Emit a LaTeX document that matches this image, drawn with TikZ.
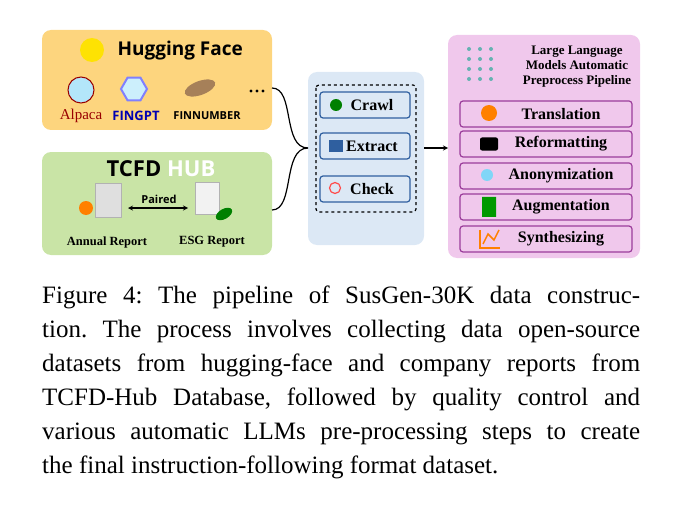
\documentclass[tikz,border=0pt]{standalone}
\usepackage{fontspec}
\setmainfont{Liberation Serif}
\newfontfamily\sansb{Open Sans}
\usetikzlibrary{shapes.geometric}
\definecolor{hfbg}{HTML}{FDD57E}
\definecolor{tcbg}{HTML}{C9E4A6}
\definecolor{qcbg}{HTML}{DCE8F5}
\definecolor{qcline}{HTML}{2F5F9F}
\definecolor{plbg}{HTML}{F0C8EC}
\definecolor{plline}{HTML}{9B3D9B}
\tikzset{
% panels and step buttons
qc step/.style={draw=qcline,line width=1.2pt,fill=qcbg,rounded corners=3pt,minimum width=90pt,minimum height=26pt,font=\bfseries\fontsize{16}{16}\selectfont},
llm step/.style={draw=plline,line width=1.2pt,fill=plbg,rounded corners=3pt,minimum width=172pt,minimum height=26pt,font=\bfseries\fontsize{16}{16}\selectfont},
icon/.style={inner sep=0}
}
\begin{document}
\begin{tikzpicture}[x=1pt,y=-1pt]
\useasboundingbox (0,0) rectangle (685,516);
% panels
\fill[hfbg,rounded corners=9pt] (42,30) rectangle (272,130);
\fill[tcbg,rounded corners=9pt] (42,152) rectangle (272,255);
\fill[qcbg,rounded corners=9pt] (308,72) rectangle (424,245);
\fill[plbg,rounded corners=9pt] (448,35) rectangle (640,258);
\draw[dashed,line width=1.2pt,rounded corners=3pt] (316,85) rectangle (416,212);
% hugging face
\node[icon,circle,fill=yellow!85!orange,minimum size=24pt] (emoji) at (92,50) {};
\node[font=\sansb\bfseries\fontsize{19}{19}\selectfont,anchor=west] (hf) at (114,51) {Hugging Face};
\node[icon,circle,draw=red!60!black,line width=1pt,fill=cyan!30,minimum size=26pt] (alp) at (81,90) {};
\node[font=\fontsize{15}{15}\selectfont,text=red!60!black] (alpt) at (81,116) {Alpaca};
\node[icon,regular polygon,regular polygon sides=6,draw=blue!50,line width=2pt,fill=cyan!20,minimum size=26pt] (fg) at (134,89) {};
\node[font=\sansb\bfseries\fontsize{13}{13}\selectfont,text=blue!70!black] (fgt) at (136,116) {FINGPT};
\node[icon,ellipse,fill=brown!60!gray,minimum width=32pt,minimum height=14pt,rotate=20] (bird) at (200,88) {};
\node[font=\sansb\bfseries\fontsize{11}{11}\selectfont] (fnt) at (207,116) {FINNUMBER};
\foreach \k in {0,1,2} \fill (251+\k*6,91) circle (1.6pt);
% tcfd hub
\node[font=\sansb\bfseries\fontsize{22}{22}\selectfont] (tc) at (161,169) {TCFD \textcolor{white}{HUB}};
\node[icon,fill=gray!25,draw=gray!60,minimum width=26pt,minimum height=34pt] (ar) at (108,200) {};
\node[icon,circle,fill=orange,minimum size=14pt] (coin) at (86,208) {};
\node[font=\bfseries\fontsize{12.5}{12.5}\selectfont] (art) at (107,242) {Annual Report};
\node[icon,fill=gray!10,draw=gray!60,minimum width=24pt,minimum height=32pt] (esg) at (207,198) {};
\node[icon,ellipse,fill=green!50!black,minimum width=18pt,minimum height=10pt,rotate=30] (leaf) at (224,214) {};
\node[font=\bfseries\fontsize{12.5}{12.5}\selectfont] (esgt) at (212,242) {ESG Report};
\node[font=\sansb\bfseries\fontsize{11}{11}\selectfont] (pair) at (159,199) {Paired};
\draw[<->,>=stealth,line width=1.2pt] (128,208) -- (188,208);
% brace into quality control
\coordinate (hfr) at (272,88);
\coordinate (tcr) at (272,210);
\coordinate (tip) at (308,148);
\draw[line width=1.2pt] (hfr) .. controls (295,88) and (282,148) .. (tip);
\draw[line width=1.2pt] (tcr) .. controls (295,210) and (282,148) .. (tip);
% quality control steps
\node[qc step] (crawl) at (365,105) {\hspace{14pt}Crawl};
\node[qc step] (extract) at (365,146) {\hspace{14pt}Extract};
\node[qc step] (check) at (365,189) {\hspace{14pt}Check};
\node[icon,circle,fill=green!50!black,minimum size=12pt] at (336,105) {};
\node[icon,fill=qcline,minimum width=14pt,minimum height=11pt] at (336,146) {};
\node[icon,circle,draw=red!70,line width=1.2pt,minimum size=11pt] at (335,188) {};
\coordinate (qo) at (424,148);
\draw[->,>=stealth,line width=1.2pt] (qo) -- (448,148);
% llm pipeline
\node[font=\bfseries\fontsize{13}{15}\selectfont,align=center] (ttl) at (577,67) {Large Language\\Models Automatic\\Preprocess Pipeline};
\foreach \i in {0,1,2}{\foreach \j in {0,1,2,3}{
\node[icon,circle,fill=teal!60,minimum size=4pt] (n\i\j) at (469+\i*11,49+\j*10) {};}}
\node[llm step] (tr) at (546,114) {\hspace{30pt}Translation};
\node[llm step] (rf) at (546,144) {\hspace{30pt}Reformatting};
\node[llm step] (an) at (546,176) {\hspace{30pt}Anonymization};
\node[llm step] (au) at (546,207) {\hspace{30pt}Augmentation};
\node[llm step] (sy) at (546,239) {\hspace{30pt}Synthesizing};
\node[icon,circle,fill=orange,minimum size=16pt] at (489,113) {};
\node[icon,fill=black,rounded corners=2pt,minimum width=18pt,minimum height=13pt] at (489,144) {};
\node[icon,circle,fill=cyan!50,minimum size=12pt] at (487,175) {};
\node[icon,cylinder,shape border rotate=90,fill=green!60!black,minimum width=14pt,minimum height=20pt,aspect=0.4] at (489,207) {};
\draw[orange,line width=1.5pt] (480,230) -- (480,248) -- (500,248);
\draw[orange,line width=1.5pt] (483,244) -- (488,234) -- (494,240) -- (499,230);
% caption
\node[anchor=north west,text width=598pt,align=justify,inner sep=0,font=\frenchspacing\fontsize{25}{34}\selectfont] (cap) at (42,286) {Figure 4: The pipeline of SusGen-30K data construc-\linebreak tion. The process involves collecting data open-source\linebreak datasets from hugging-face and company reports from\linebreak TCFD-Hub Database, followed by quality control and\linebreak various automatic LLMs pre-processing steps to create\linebreak the final instruction-following format dataset.};
\end{tikzpicture}
\end{document}
